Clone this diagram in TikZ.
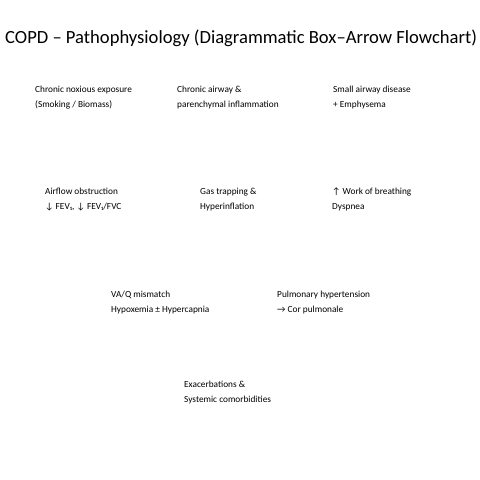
\documentclass[tikz,border=0pt]{standalone}
\usepackage{fontspec}
\setmainfont{Carlito}
\tikzset{
  lbl/.style={anchor=north west,align=left,inner sep=0pt,
    font=\fontsize{9.3}{14.6}\selectfont,execute at begin node=\strut},
  ttl/.style={anchor=west,inner sep=0pt,font=\fontsize{18.6}{22}\selectfont}
}
\begin{document}
\begin{tikzpicture}[x=1pt,y=-1pt]
  \useasboundingbox (0,0) rectangle (480,480);
  \node[ttl] (title) at (5,38) {COPD – Pathophysiology (Diagrammatic Box–Arrow Flowchart)};
  % top row
  \node[lbl] (expo) at (35,86) {Chronic noxious exposure\\(Smoking / Biomass)};
  \node[lbl] (infl) at (177,86) {Chronic airway \&\\parenchymal inflammation};
  \node[lbl] (saad) at (333,86) {Small airway disease\\+ Emphysema};
  % middle row
  \node[lbl] (obst) at (45,188) {Airflow obstruction\\↓ FEV₁, ↓ FEV₁/FVC};
  \node[lbl] (trap) at (200,188) {Gas trapping \&\\Hyperinflation};
  \node[lbl] (work) at (332,188) {↑ Work of breathing\\Dyspnea};
  % lower row
  \node[lbl] (vq) at (111,291) {VA/Q mismatch\\Hypoxemia ± Hypercapnia};
  \node[lbl] (ph) at (277,291) {Pulmonary hypertension\\→ Cor pulmonale};
  \node[lbl] (exac) at (184,381) {Exacerbations \&\\Systemic comorbidities};
\end{tikzpicture}
\end{document}
